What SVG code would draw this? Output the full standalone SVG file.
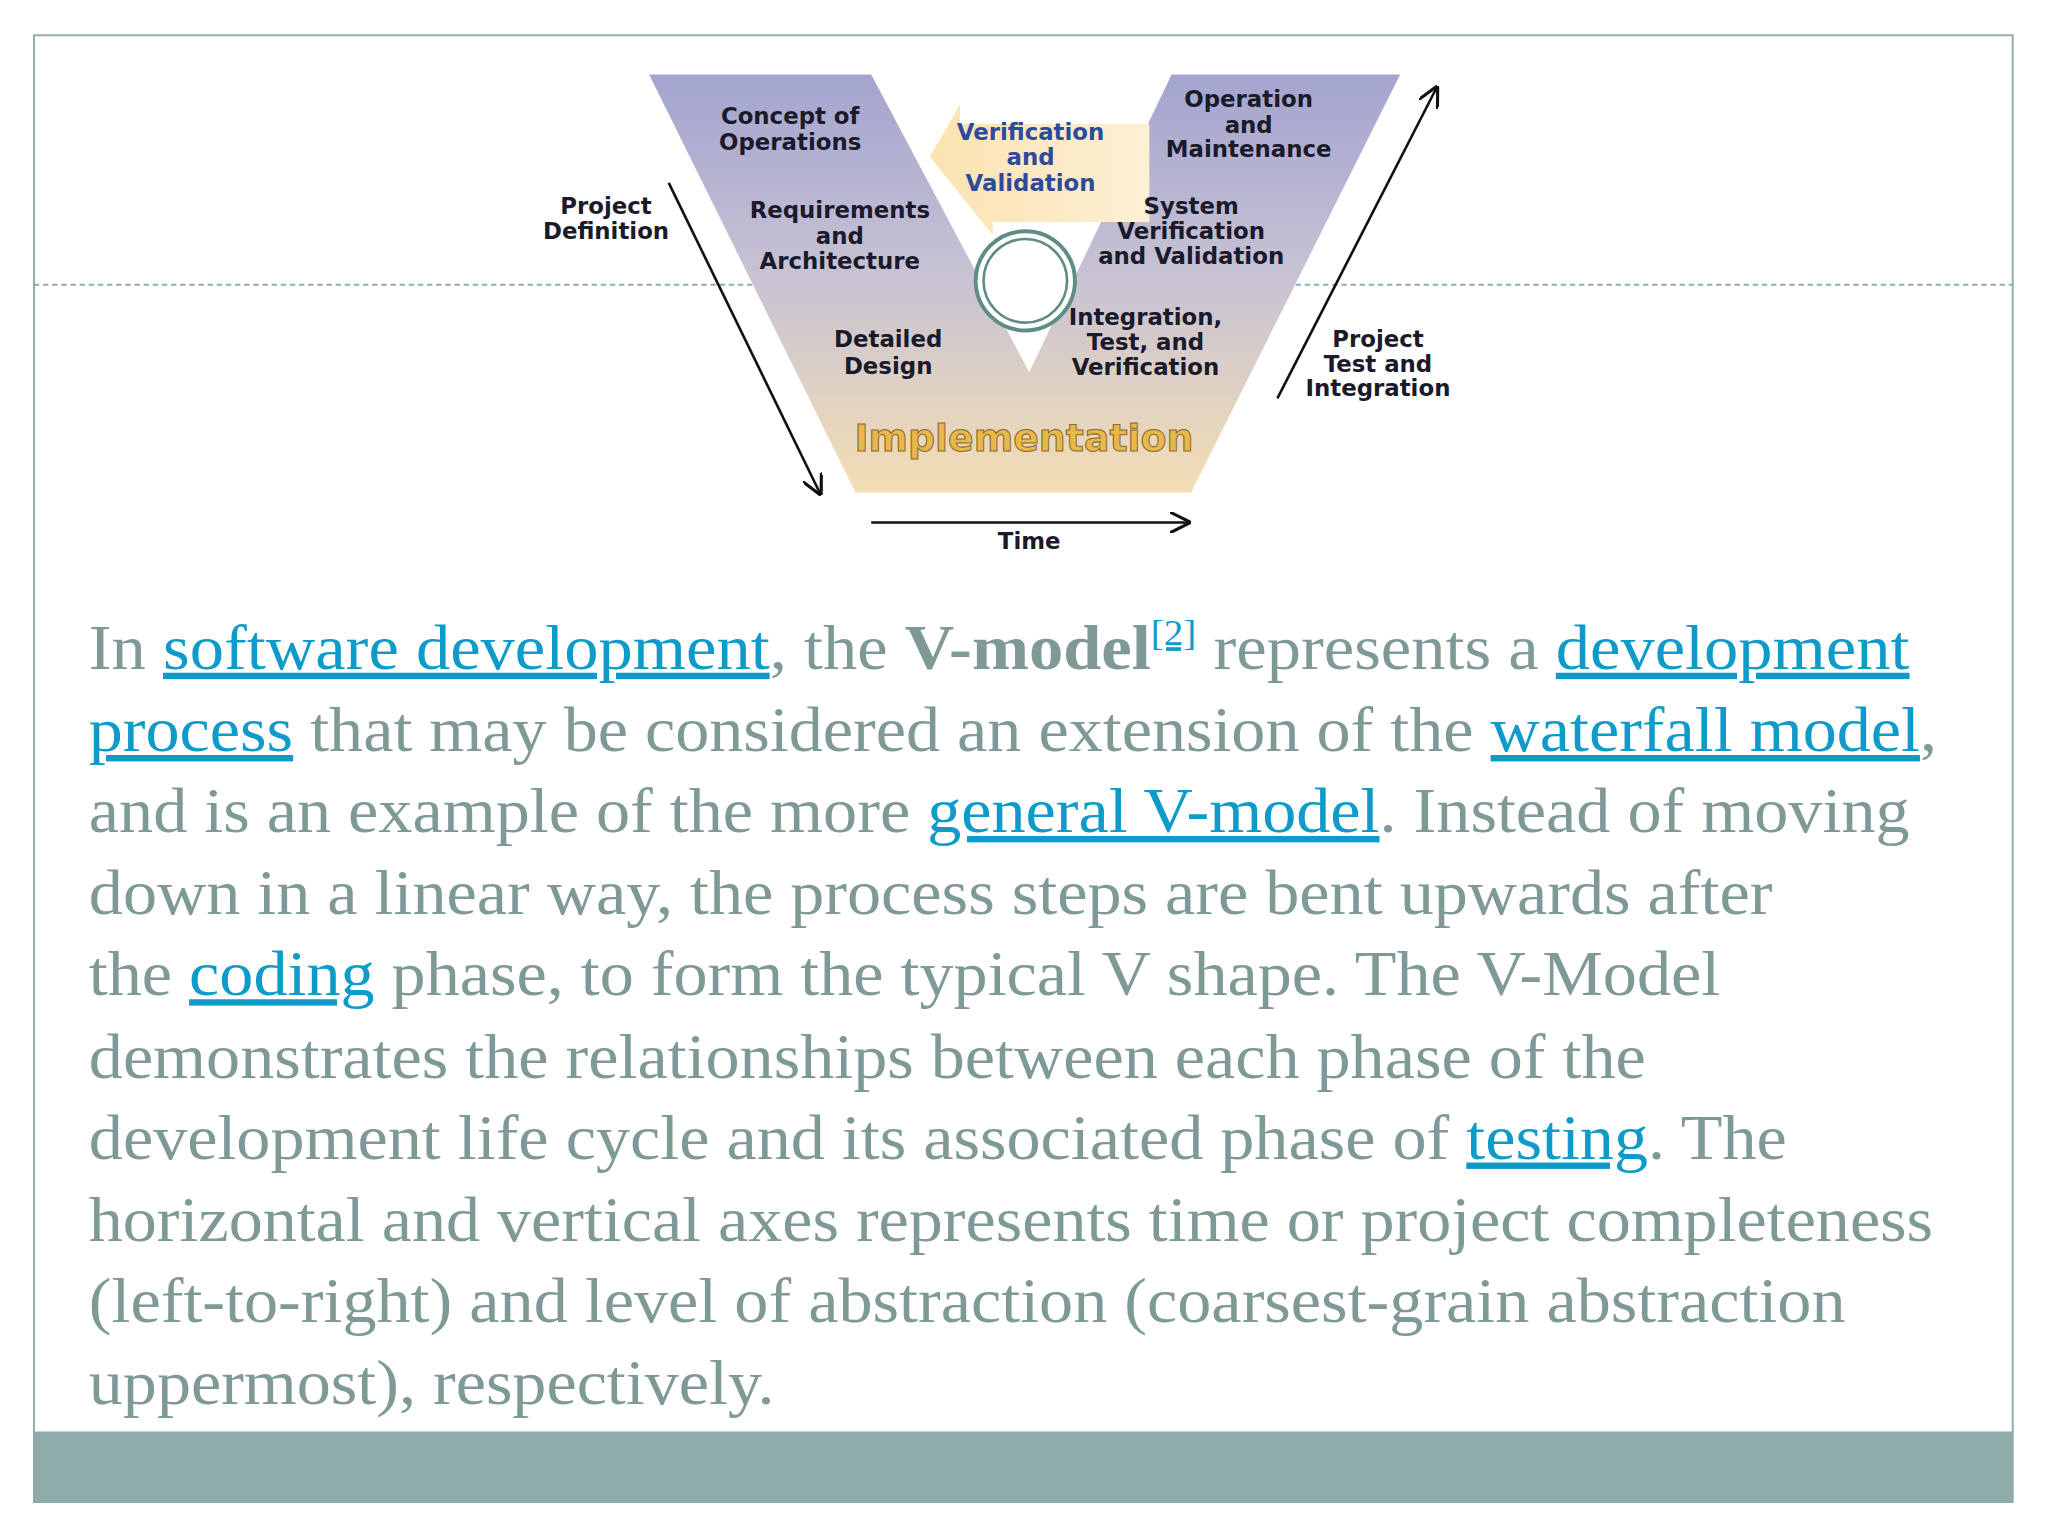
<svg xmlns="http://www.w3.org/2000/svg" width="2048" height="1536" viewBox="0 0 2048 1536">
<defs>
<linearGradient id="vg" x1="0" y1="0" x2="0" y2="1"><stop offset="0" stop-color="#A3A4D0"/><stop offset="0.5" stop-color="#C9C3D3"/><stop offset="1" stop-color="#F4DEB4"/></linearGradient>
<linearGradient id="yg" x1="0" y1="0" x2="1" y2="0"><stop offset="0" stop-color="#FBE2B0"/><stop offset="1" stop-color="#FDF0D6"/></linearGradient>
<marker id="ah" viewBox="0 0 10 10" refX="9" refY="5" markerWidth="8" markerHeight="8" orient="auto"><path d="M0,0 L10,5 L0,10" fill="none" stroke="#111" stroke-width="1.5"/></marker>
<style>
.d{font-family:"DejaVu Sans",sans-serif;font-weight:bold;font-size:17.5px;fill:#1a1a2a;text-anchor:middle}
.b{fill:#2E4A9A}
.p{font-family:"Liberation Serif",serif;font-size:49px;fill:#7F9A96}
.l{fill:#0E9BC9;text-decoration:underline}
</style>
</defs>
<g transform="scale(1.30612)">
<rect x="26" y="27" width="1515" height="1123" fill="#fff" stroke="#8FACAA" stroke-width="1.5"/>
<rect x="26" y="1096" width="1515" height="54" fill="#8FACAA"/>
<line x1="26" y1="218" x2="1541" y2="218" stroke="#8FACAA" stroke-width="1.5" stroke-dasharray="4,3"/>
<g id="v"><path d="M497,57 L667,57 L788,285 L897,57 L1072,57 L912,377 L655,377 Z" fill="url(#vg)"/></g>
<g id="vv"><path d="M712,120 L735,80 L735,95 L880,95 L880,170 L760,170 L760,180 Z" fill="url(#yg)"/>
<text class="d b" x="789" y="107">Verification</text><text class="d b" x="789" y="126">and</text><text class="d b" x="789" y="146">Validation</text></g>
<g id="circ"><circle cx="785" cy="215" r="38" fill="#fff" stroke="#5F8C84" stroke-width="3"/><circle cx="785" cy="215" r="32" fill="none" stroke="#5F8C84" stroke-width="2"/></g>
<g id="n1"><text class="d" x="605" y="95">Concept of</text><text class="d" x="605" y="115">Operations</text></g>
<g id="n2"><text class="d" x="643" y="167">Requirements</text><text class="d" x="643" y="187">and</text><text class="d" x="643" y="206">Architecture</text></g>
<g id="n3"><text class="d" x="680" y="266">Detailed</text><text class="d" x="680" y="286">Design</text></g>
<g id="n4"><text class="d" x="956" y="82">Operation</text><text class="d" x="956" y="102">and</text><text class="d" x="956" y="120">Maintenance</text></g>
<g id="n5"><text class="d" x="912" y="164">System</text><text class="d" x="912" y="183">Verification</text><text class="d" x="912" y="202">and Validation</text></g>
<g id="n6"><text class="d" x="877" y="249">Integration,</text><text class="d" x="877" y="268">Test, and</text><text class="d" x="877" y="287">Verification</text></g>
<g id="impl"><text x="784" y="345" style="font-family:'DejaVu Sans',sans-serif;font-weight:bold;font-size:29px;fill:#E8B84A;stroke:#8A6A30;stroke-width:0.8;text-anchor:middle">Implementation</text></g>
<g id="pd"><text class="d" x="464" y="164">Project</text><text class="d" x="464" y="183">Definition</text></g>
<g id="pt"><text class="d" x="1055" y="266">Project</text><text class="d" x="1055" y="285">Test and</text><text class="d" x="1055" y="303">Integration</text></g>
<g id="tm"><text class="d" x="788" y="420">Time</text></g>
<g id="connectors" stroke="#111" stroke-width="2" fill="none" marker-end="url(#ah)">
<line x1="512" y1="140" x2="628" y2="378"/>
<line x1="978" y1="305" x2="1100" y2="67"/>
<line x1="667" y1="400" x2="910" y2="400"/>
</g>
<g id="para" class="p">
<text x="68" y="512" textLength="1394" lengthAdjust="spacingAndGlyphs">In <tspan class="l">software development</tspan>, the <tspan font-weight="bold">V-model</tspan><tspan class="l" font-size="28" dy="-18">[2]</tspan><tspan dy="18"> represents a </tspan><tspan class="l">development</tspan></text>
<text x="68" y="575" textLength="1415" lengthAdjust="spacingAndGlyphs"><tspan class="l">process</tspan> that may be considered an extension of the <tspan class="l">waterfall model</tspan>,</text>
<text x="68" y="637" textLength="1394" lengthAdjust="spacingAndGlyphs">and is an example of the more <tspan class="l">general V-model</tspan>. Instead of moving</text>
<text x="68" y="700" textLength="1289" lengthAdjust="spacingAndGlyphs">down in a linear way, the process steps are bent upwards after</text>
<text x="68" y="762" textLength="1249" lengthAdjust="spacingAndGlyphs">the <tspan class="l">coding</tspan> phase, to form the typical V shape. The V-Model</text>
<text x="68" y="825" textLength="1192" lengthAdjust="spacingAndGlyphs">demonstrates the relationships between each phase of the</text>
<text x="68" y="887" textLength="1300" lengthAdjust="spacingAndGlyphs">development life cycle and its associated phase of <tspan class="l">testing</tspan>. The</text>
<text x="68" y="950" textLength="1412" lengthAdjust="spacingAndGlyphs">horizontal and vertical axes represents time or project completeness</text>
<text x="68" y="1012" textLength="1345" lengthAdjust="spacingAndGlyphs">(left-to-right) and level of abstraction (coarsest-grain abstraction</text>
<text x="68" y="1075" textLength="525" lengthAdjust="spacingAndGlyphs">uppermost), respectively.</text>
</g>
</g>
</svg>
